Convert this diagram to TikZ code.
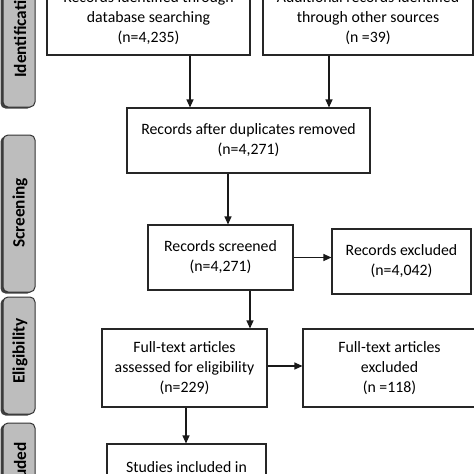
\documentclass[tikz,border=0pt]{standalone}
\usepackage{fontspec}
\setmainfont{Carlito}
\usetikzlibrary{arrows.meta,shadows}

\tikzset{
  box/.style={draw=black!85, line width=1.1pt, fill=white, align=center, inner sep=0pt,
    font=\fontsize{15.8}{20}\selectfont},
  tab/.style={draw=black!80, line width=1pt, fill=black!26, rounded corners=5pt,
    minimum width=32pt, inner sep=0pt,
    drop shadow={shadow xshift=-2.5pt, shadow yshift=-1.5pt, opacity=1, fill=black!75}},
  tabtxt/.style={rotate=90, inner sep=0pt, font=\bfseries\fontsize{17.3}{20}\selectfont},
  flow/.style={line width=1.1pt, draw=black!90, -{Triangle[length=8pt,width=7pt]}},
}

\begin{document}
\begin{tikzpicture}[x=1pt,y=1pt,yscale=-1,xscale=1]
\useasboundingbox (0,0) rectangle (474,474);
\clip (0,0) rectangle (474,474);
%Phase tabs
\node[tab, minimum height=154pt] (idtab) at (19,30) {};
\node[tabtxt] (idlbl) at (20,30) {Identification};
\node[tab, minimum height=157pt] (scrtab) at (19,213.5) {};
\node[tabtxt] (scrlbl) at (20,213) {Screening};
\node[tab, minimum height=117pt] (elitab) at (19,355.5) {};
\node[tabtxt] (elilbl) at (20,351) {Eligibility};
\node[tab, minimum height=100pt] (inctab) at (19,473) {};
\node[tabtxt] (inclbl) at (20,473) {Included};
%Boxes
\node[box, minimum width=203pt, minimum height=74pt] (db) at (148.5,18)
  {Records identified through\\database searching\\(n=4,235)};
\node[box, minimum width=210pt, minimum height=74pt] (other) at (368,18)
  {Additional records identified\\through other sources\\(n =39)};
\node[box, minimum width=243pt, minimum height=65pt] (dup) at (248.5,140.5)
  {Records after duplicates removed\\(n=4,271)};
\node[box, minimum width=145pt, minimum height=65pt] (scr) at (220.5,257.5)
  {Records screened\\(n=4,271)};
\node[box, minimum width=139pt, minimum height=65pt] (excl) at (401.5,261.5)
  {Records excluded\\(n=4,042)};
\node[box, minimum width=165pt, minimum height=78pt] (full) at (184.5,368)
  {Full-text articles\\assessed for eligibility\\(n=229)};
\node[box, minimum width=173pt, minimum height=78pt] (fexcl) at (389.5,368)
  {Full-text articles\\excluded\\(n =118)};
\node[box, minimum width=159pt, minimum height=80pt] (incl) at (186.5,484) {};
% Text Node
\node[inner sep=0pt, font=\fontsize{15.8}{20}\selectfont] (incltxt) at (186.5,467) {Studies included in};
%Arrows
\draw[flow] ([xshift=41.5pt]db.south) -- ([xshift=41.5pt]db.south |- dup.north);
\draw[flow] ([xshift=-39pt]other.south) -- ([xshift=-39pt]other.south |- dup.north);
\draw[flow] ([xshift=-20.5pt]dup.south) -- ([xshift=-20.5pt]dup.south |- scr.north);
\draw[flow] (scr.east) -- (scr.east -| excl.west);
\draw[flow] ([yshift=-2pt]full.east) -- ([yshift=-2pt]full.east -| fexcl.west);
\draw[flow] ([xshift=29.5pt]scr.south) -- ([xshift=29.5pt]scr.south |- full.north);
\draw[flow] ([xshift=1.5pt]full.south) -- ([xshift=1.5pt]full.south |- incl.north);
\end{tikzpicture}
\end{document}
